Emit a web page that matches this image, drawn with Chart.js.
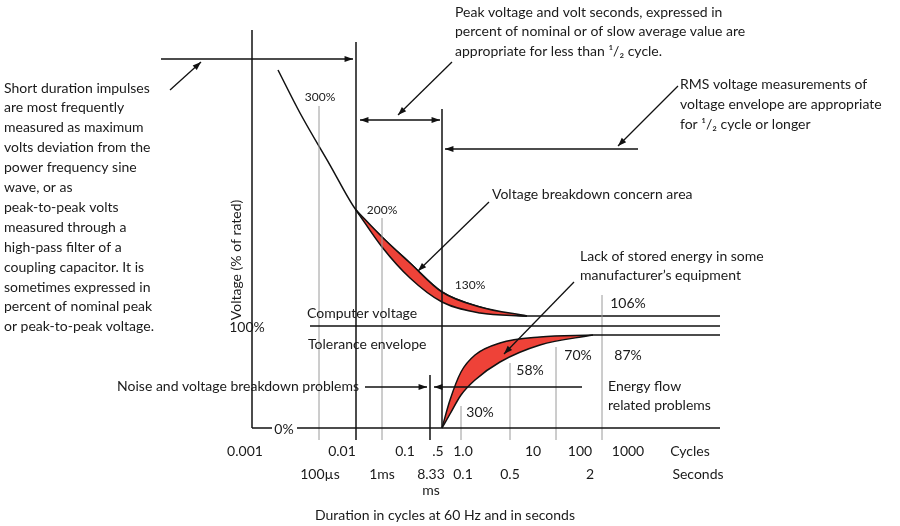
<!DOCTYPE html>
<html><head><meta charset="utf-8">
<script src="https://cdn.jsdelivr.net/npm/chart.js@4/dist/chart.umd.min.js"></script>
<style>html,body{margin:0;padding:0;background:#fff}#w{width:900px;height:526px}</style>
</head><body><div id="w"><canvas id="c" width="900" height="526"></canvas></div>
<script>
// Diagram units (schematic CBEMA-style curve): x = duration position, y = voltage position
const upperCurveX = [278, 300, 330, 356, 382, 410, 442, 480, 527, 720];
const upperCurveY = [70, 113, 165, 210, 237, 263, 292, 307, 316, 316];
const redTopX = [356, 382, 410, 442, 480, 527];
const redTopOuterY = [210, 237, 263, 292, 307, 316];
const redTopInnerY = [210, 247, 278, 302, 313, 316];
const redLowX = [442, 450, 461, 475, 500, 540, 593];
const redLowUpperY = [428, 400, 372, 355, 343, 337, 335];
const redLowLowerY = [428, 414, 395, 380, 362, 345, 335];
const blackLines = [[252,30,252,428],[252,428,272,428],[297,428,720,428],[310,326,720,326],
  [356,42,356,440],[442,109,442,428],[430,375,430,440],[593,335,720,335]];
const greyLines = [[319,106,319,440],[382,218,382,440],[461,406,461,440],[510,363,510,440],[556,347,556,440],[602,295,602,440]];
const arrows = [[161,59,353,59,0],[170,90,201,62,0],[452,62,398,115,0],[360,120,440,120,1],[678,86,618,146,0],
  [638,149,445,149,0],[489,202,418,271,0],[574,282,504,354,0],[365,387,427,387,0],[582,387,434,387,0]];
const cycleTicks = ['0.001','0.01','0.1','.5','1.0','10','100','1000','Cycles'];
const cycleTickX = [245,342,405,438,463,533,580,628,690];
const secondTicks = ['100µs','1ms','8.33','0.1','0.5','2','Seconds'];
const secondTickX = [320,382,431,463,510,590,698];
const levelLabels = ['300%','200%','130%','106%','87%','70%','58%','30%'];
const leftText = ['Short duration impulses','are most frequently','measured as maximum','volts deviation from the','power frequency sine','wave, or as','peak-to-peak volts','measured through a','high-pass filter of a','coupling capacitor. It is','sometimes expressed in','percent of nominal peak','or peak-to-peak voltage.'];
const peakText = ['Peak voltage and volt seconds, expressed in','percent of nominal or of slow average value are','appropriate for less than ¹/₂ cycle.'];
const rmsText = ['RMS voltage measurements of','voltage envelope are appropriate','for ¹/₂ cycle or longer'];

const pts = (xs, ys) => xs.map((x, i) => ({x, y: ys[i]}));
const FONT = '"Lato", "Open Sans", sans-serif';

const textPlugin = {
  id: 'diagram',
  afterDatasetsDraw(chart) {
    const ctx = chart.ctx, sx = chart.scales.x, sy = chart.scales.y;
    const X = v => sx.getPixelForValue(v), Y = v => sy.getPixelForValue(v);
    ctx.save();
    ctx.lineCap = 'butt';
    const seg = (l, col, w) => { ctx.strokeStyle = col; ctx.lineWidth = w; ctx.beginPath(); ctx.moveTo(X(l[0]), Y(l[1])); ctx.lineTo(X(l[2]), Y(l[3])); ctx.stroke(); };
    greyLines.forEach(l => seg(l, '#9a9a9a', 1));
    blackLines.forEach(l => seg(l, '#111', 1.5));
    const head = (x1, y1, x2, y2) => {
      const a = Math.atan2(y2 - y1, x2 - x1), L = 9, s = 0.35;
      ctx.beginPath(); ctx.moveTo(x2, y2);
      ctx.lineTo(x2 - L * Math.cos(a - s), y2 - L * Math.sin(a - s));
      ctx.lineTo(x2 - L * Math.cos(a + s), y2 - L * Math.sin(a + s));
      ctx.closePath(); ctx.fill();
    };
    ctx.fillStyle = '#111';
    arrows.forEach(a => {
      seg(a, '#111', 1.3);
      head(X(a[0]), Y(a[1]), X(a[2]), Y(a[3]));
      if (a[4]) head(X(a[2]), Y(a[3]), X(a[0]), Y(a[1]));
    });
    const txt = (t, x, y, align, size, col) => {
      ctx.font = (size || 14) + 'px ' + FONT; ctx.fillStyle = col || '#1a1a1a';
      ctx.textAlign = align || 'left'; ctx.textBaseline = 'middle';
      ctx.fillText(t, X(x), Y(y));
    };
    leftText.forEach((t, i) => txt(t, 4, 88 + i * 19.9));
    peakText.forEach((t, i) => txt(t, 455, 12 + i * 19.5));
    rmsText.forEach((t, i) => txt(t, 680, 84 + i * 20));
    cycleTicks.forEach((t, i) => txt(t, cycleTickX[i], 451, 'center'));
    secondTicks.forEach((t, i) => txt(t, secondTickX[i], 474, 'center'));
    txt('ms', 431, 490, 'center');
    txt('Duration in cycles at 60 Hz and in seconds', 445, 515, 'center');
    const lvX = [320,382,470,628,628,578,530,480], lvY = [97,210,285,303,355,355,370,412], lvS = [12,12,12,14,14,14,14,14];
    levelLabels.forEach((t, i) => txt(t, lvX[i], lvY[i], 'center', lvS[i]));
    txt('100%', 247, 327, 'center');
    txt('0%', 284, 429, 'center');
    txt('Computer voltage', 307, 313);
    txt('Tolerance envelope', 308, 344);
    txt('Noise and voltage breakdown problems', 359, 386, 'right');
    txt('Energy flow', 608, 386);
    txt('related problems', 608, 405);
    txt('Voltage breakdown concern area', 492, 194);
    txt('Lack of stored energy in some', 580, 256);
    txt('manufacturer\u2019s equipment', 580, 275);
    ctx.save();
    ctx.translate(X(236), Y(260)); ctx.rotate(-Math.PI / 2);
    ctx.font = '14px ' + FONT; ctx.fillStyle = '#1a1a1a'; ctx.textAlign = 'center'; ctx.textBaseline = 'middle';
    ctx.fillText('Voltage (% of rated)', 0, 0);
    ctx.restore();
    ctx.restore();
  }
};

const RED = '#ee4238';
const base = {pointRadius: 0, borderColor: '#111', borderWidth: 1.5, cubicInterpolationMode: 'monotone', fill: false};
new Chart(document.getElementById('c'), {
  type: 'line',
  data: { datasets: [
    {...base, data: pts(redTopX, redTopOuterY)},
    {...base, data: pts(redTopX, redTopInnerY), fill: '-1', backgroundColor: RED},
    {...base, data: pts(redLowX, redLowUpperY)},
    {...base, data: pts(redLowX, redLowLowerY), fill: '-1', backgroundColor: RED},
    {...base, data: pts(upperCurveX, upperCurveY)}
  ]},
  options: {
    responsive: false, animation: false, parsing: true,
    layout: {padding: 0},
    plugins: {legend: {display: false}, tooltip: {enabled: false}},
    scales: {
      x: {type: 'linear', min: 0, max: 900, display: false},
      y: {type: 'linear', min: 0, max: 526, reverse: true, display: false}
    }
  },
  plugins: [textPlugin]
});
</script></body></html>
